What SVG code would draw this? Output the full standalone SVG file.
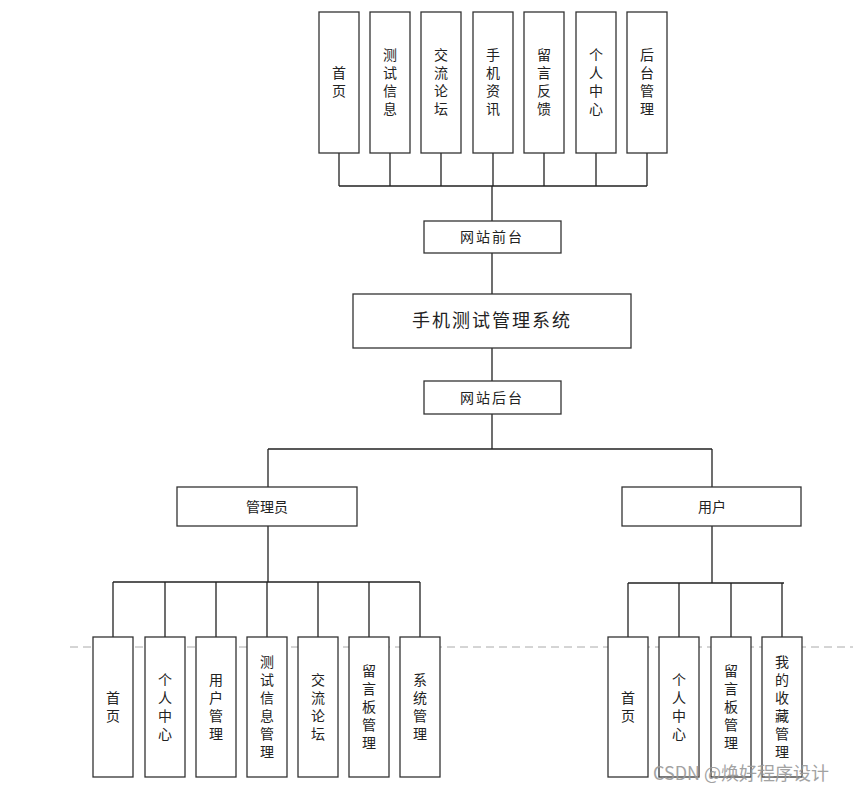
<svg xmlns="http://www.w3.org/2000/svg" width="853" height="792" viewBox="0 0 853 792">
<style>
rect{fill:#fff;stroke:#333;stroke-width:1.3}
text{font-family:"Noto Sans CJK SC","Liberation Sans",sans-serif;font-size:14px;fill:#222;text-anchor:middle}
.v{writing-mode:vertical-rl;glyph-orientation-vertical:0;letter-spacing:4px}
#conn path{fill:none;stroke:#222;stroke-width:1.3}
</style>
<rect x="0" y="0" width="853" height="792" style="fill:#fff;stroke:none"/>
<line x1="70" y1="647" x2="853" y2="647" stroke="#aaa" stroke-dasharray="8,5"/>
<g id="conn">
<path d="M339 153V186M390 153V186M441 153V186M493 153V186M544 153V186M596 153V186M647 153V186M339 186H647M492 186V221M492 253V294M492 348V381M492 414V449M268 449H712M268 449V487M712 449V487"/>
<path d="M268 526V582M113 582H420M113 582V637M165 582V637M216 582V637M267 582V637M318 582V637M369 582V637M420 582V637"/>
<path d="M712 526V583M628 583H784M628 583V637M679 583V637M731 583V637M782 583V637"/>
</g>
<g id="top">
<g id="t1"><rect x="319" y="12" width="40" height="141"/><text class="v" x="339" y="84">首页</text></g>
<g id="t2"><rect x="370" y="12" width="40" height="141"/><text class="v" x="390" y="84">测试信息</text></g>
<g id="t3"><rect x="421" y="12" width="40" height="141"/><text class="v" x="441" y="84">交流论坛</text></g>
<g id="t4"><rect x="473" y="12" width="40" height="141"/><text class="v" x="493" y="84">手机资讯</text></g>
<g id="t5"><rect x="524" y="12" width="40" height="141"/><text class="v" x="544" y="84">留言反馈</text></g>
<g id="t6"><rect x="576" y="12" width="40" height="141"/><text class="v" x="596" y="84">个人中心</text></g>
<g id="t7"><rect x="627" y="12" width="40" height="141"/><text class="v" x="647" y="84">后台管理</text></g>
</g>
<g id="front"><rect x="424" y="221" width="137" height="32"/><text x="492" y="242" style="letter-spacing:2px">网站前台</text></g>
<g id="main"><rect x="353" y="294" width="278" height="54"/><text x="492" y="327" style="font-size:18px;letter-spacing:2px">手机测试管理系统</text></g>
<g id="back"><rect x="424" y="381" width="137" height="33"/><text x="492" y="403" style="letter-spacing:2px">网站后台</text></g>
<g id="admin"><rect x="177" y="487" width="180" height="39"/><text x="267" y="512">管理员</text></g>
<g id="user"><rect x="622" y="487" width="179" height="39"/><text x="712" y="512">用户</text></g>
<g id="bl">
<g id="a1"><rect x="93" y="637" width="40" height="140"/><text class="v" x="113" y="709">首页</text></g>
<g id="a2"><rect x="145" y="637" width="40" height="140"/><text class="v" x="165" y="709">个人中心</text></g>
<g id="a3"><rect x="196" y="637" width="40" height="140"/><text class="v" x="216" y="709">用户管理</text></g>
<g id="a4"><rect x="247" y="637" width="40" height="140"/><text class="v" x="267" y="709">测试信息管理</text></g>
<g id="a5"><rect x="298" y="637" width="40" height="140"/><text class="v" x="318" y="709">交流论坛</text></g>
<g id="a6"><rect x="349" y="637" width="40" height="140"/><text class="v" x="369" y="709">留言板管理</text></g>
<g id="a7"><rect x="400" y="637" width="40" height="140"/><text class="v" x="420" y="709">系统管理</text></g>
</g>
<g id="br">
<g id="u1"><rect x="608" y="637" width="40" height="140"/><text class="v" x="628" y="709">首页</text></g>
<g id="u2"><rect x="659" y="637" width="40" height="140"/><text class="v" x="679" y="709">个人中心</text></g>
<g id="u3"><rect x="711" y="637" width="40" height="140"/><text class="v" x="731" y="709">留言板管理</text></g>
<g id="u4"><rect x="762" y="637" width="40" height="140"/><text class="v" x="782" y="709">我的收藏管理</text></g>
</g>
<text x="741" y="780" style="font-size:18px;fill:#999;opacity:0.9">CSDN @焕好程序设计</text>
</svg>
